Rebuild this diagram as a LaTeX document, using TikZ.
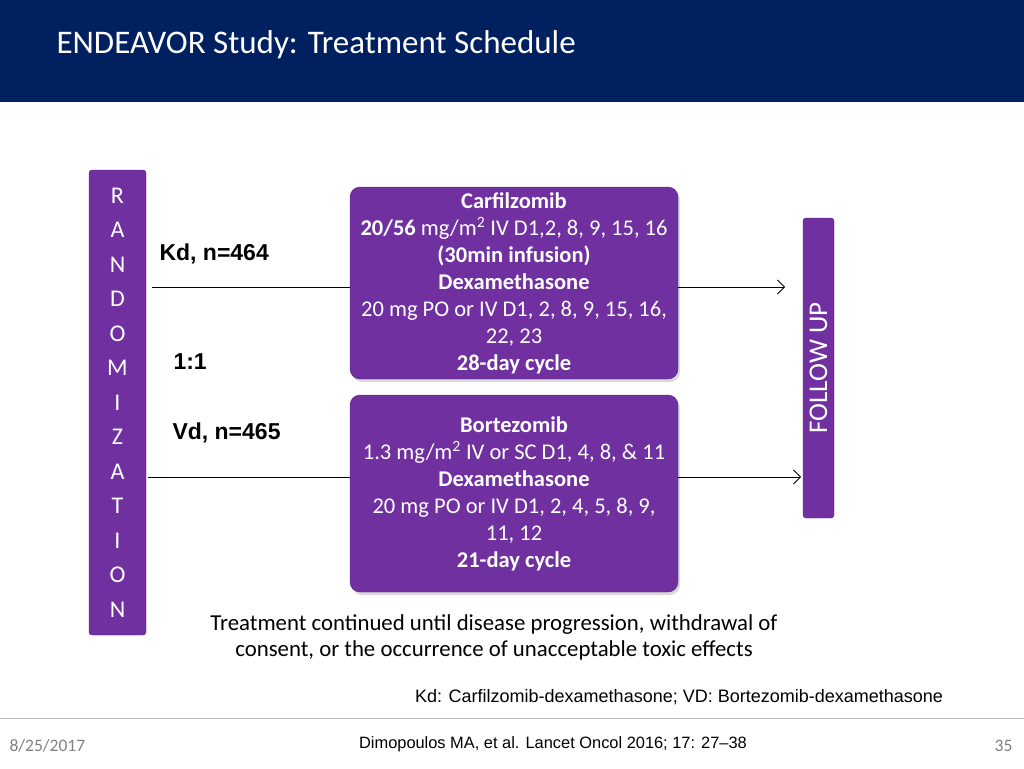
\documentclass[tikz,border=0pt]{standalone}
\usepackage{fontspec}
\setmainfont{Carlito}
\newfontfamily\arialfont{Liberation Sans}
\usetikzlibrary{arrows.meta,shadows}
\definecolor{navy}{RGB}{0,32,96}
\definecolor{armpurple}{RGB}{112,48,160}
\tikzset{
  armbox/.style={draw=armpurple!80!black,fill=armpurple,rounded corners=10pt,text=white,
    minimum width=328pt,align=center,font=\fontsize{22.5}{27}\selectfont,
    drop shadow={opacity=0.3,shadow xshift=2pt,shadow yshift=-3pt}},
  armlabel/.style={anchor=west,font=\arialfont\bfseries\fontsize{23}{26}\selectfont},
  flow/.style={draw=black,line width=0.8pt},
}
\begin{document}
\begin{tikzpicture}[x=1pt,y=-1pt]
  \useasboundingbox (0,0) rectangle (1024,768);
  \fill[navy] (0,0) rectangle (1024,102);
  \node[anchor=west,text=white,font=\fontsize{33}{36}\selectfont] (Title) at (53,45) {ENDEAVOR Study: Treatment Schedule};

  % randomization
  \node[draw=armpurple!80!black,fill=armpurple,rounded corners=3pt,minimum width=57pt,minimum height=465pt,
    text=white,align=center,font=\fontsize{24}{34.5}\selectfont] (Rand) at (117.5,402.5)
    {R\\A\\N\\D\\O\\M\\I\\Z\\A\\T\\I\\O\\N};

  \node[armbox,minimum height=192pt] (Kd) at (514,283)
    {\textbf{Carfilzomib}\\\textbf{20/56} mg/m\textsuperscript{2} IV D1,2, 8, 9, 15, 16\\\textbf{(30min infusion)}\\
     \textbf{Dexamethasone}\\20 mg PO or IV D1, 2, 8, 9, 15, 16,\\22, 23\\\textbf{28-day cycle}};
  \node[armbox,minimum height=197pt] (Vd) at (514,493.5)
    {\textbf{Bortezomib}\\1.3 mg/m\textsuperscript{2} IV or SC D1, 4, 8, \& 11\\\textbf{Dexamethasone}\\
     20 mg PO or IV D1, 2, 4, 5, 8, 9,\\11, 12\\\textbf{21-day cycle}};

  \node[draw=armpurple!80!black,fill=armpurple,rounded corners=3pt,minimum width=31pt,minimum height=300pt,
    text=white,font=\fontsize{27}{30}\selectfont] (FollowUp) at (818.5,368)
    {\rotatebox{90}{FOLLOW UP}};

  % arms
  \coordinate (KdIn) at (152,287);
  \coordinate (KdOut) at (785,287);
  \coordinate (VdIn) at (148,477);
  \coordinate (VdOut) at (801,477);
  \draw[flow] (KdIn) -- (Kd.west |- KdIn);
  \draw[flow,-{Straight Barb[length=7pt]}] (Kd.east |- KdOut) -- (KdOut);
  \draw[flow] (VdIn) -- (Vd.west |- VdIn);
  \draw[flow,-{Straight Barb[length=7pt]}] (Vd.east |- VdOut) -- (VdOut);

  \node[armlabel] (KdLabel) at (156,254) {Kd, n=464};
  \node[armlabel] (Ratio) at (170,362) {1:1};
  \node[armlabel] (VdLabel) at (169,433) {Vd, n=465};

  \node[align=center,font=\fontsize{22.8}{26}\selectfont] (Note) at (494,637)
    {Treatment continued until disease progression, withdrawal of\\consent, or the occurrence of unacceptable toxic effects};
  \node[font=\arialfont\fontsize{18}{20}\selectfont] (Abbr) at (679,697)
    {Kd: Carfilzomib-dexamethasone; VD: Bortezomib-dexamethasone};

  % footer
  \draw[gray!50,line width=0.8pt] (0,718) -- (1024,718);
  \node[anchor=west,text=gray,font=\fontsize{17.5}{20}\selectfont] (Date) at (6,746) {8/25/2017};
  \node[font=\arialfont\fontsize{16.4}{18}\selectfont] (Ref) at (553,744) {Dimopoulos MA, et al. Lancet Oncol 2016; 17: 27\textendash38};
  \node[anchor=east,text=gray,font=\fontsize{17.5}{20}\selectfont] (Page) at (1016,746) {35};
\end{tikzpicture}
\end{document}
